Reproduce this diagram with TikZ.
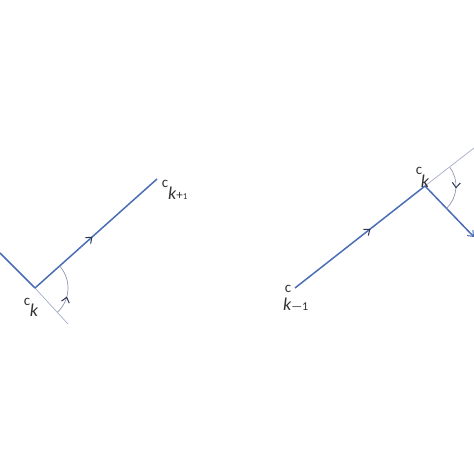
\documentclass[tikz,border=0pt]{standalone}
\usepackage{fontspec}
\setmainfont{Carlito}
\usetikzlibrary{arrows.meta,decorations.markings}
\definecolor{edgeblue}{HTML}{4A6DB5}
\definecolor{thinline}{HTML}{A3ACCB}
\definecolor{arcgray}{HTML}{8E96AE}
\definecolor{tipnavy}{HTML}{2A3550}
\definecolor{labelgray}{HTML}{333333}
\tikzset{
  seg/.style={draw=edgeblue, line width=1.5pt},
  thin/.style={draw=thinline, line width=0.7pt},
  anglearc/.style={draw=arcgray, line width=0.7pt},
  midarrow/.style={postaction={decorate}, decoration={markings,
     mark=at position #1 with {\arrow[tipnavy]{Straight Barb[length=5pt,width=8pt,line width=1pt]}}}},
  lbl/.style={text=labelgray, inner sep=0pt},
  cl/.style={lbl, font=\fontsize{15}{15}\selectfont},
  kl/.style={lbl, font=\fontsize{18}{18}\selectfont\itshape},
}
\begin{document}
\begin{tikzpicture}[x=1pt,y=1pt]
\useasboundingbox (0,0) rectangle (474,474);
% left figure
\coordinate (a0) at (0,221);
\coordinate (ckL) at (35,186);
\coordinate (ck1) at (157,295);
\coordinate (tL) at (68,150);
\draw[thin] (ckL) -- (tL);
\draw[seg] (a0) -- (ckL);
\draw[seg, midarrow=0.47] (ckL) -- (ck1);
\draw[anglearc, midarrow=0.36] ([shift={(-47:33)}]ckL) arc[start angle=-47, end angle=42, radius=33];
\node[cl] (cL) at (27,172) {c};
\node[kl] (kL) at (34,164) {k};
\node[cl] (c1) at (165,290) {c};
\node[kl, anchor=west] (k1) at (168,281) {k{\fontsize{13}{13}\selectfont\upshape +\fontsize{9}{9}\selectfont1}};
% right figure
\coordinate (ckm1) at (295,186);
\coordinate (ckR) at (425,288);
\coordinate (tR) at (474,326);
\coordinate (dR) at (474,237);
\draw[thin] (ckR) -- (tR);
\draw[seg, midarrow=0.58] (ckm1) -- (ckR);
\draw[seg, -{Straight Barb[length=5pt,width=8pt,line width=1pt]}] (ckR) -- (dR);
\draw[anglearc, midarrow=0.5] ([shift={(37:31)}]ckR) arc[start angle=37, end angle=-46, radius=31];
\node[cl] (cR) at (419,303) {c};
\node[kl] (kR) at (425,293) {k};
\node[cl] (cm) at (288,185) {c};
\node[kl, anchor=west] (km) at (283,170) {k{\fontsize{12}{12}\selectfont\upshape —1}};
\end{tikzpicture}
\end{document}
